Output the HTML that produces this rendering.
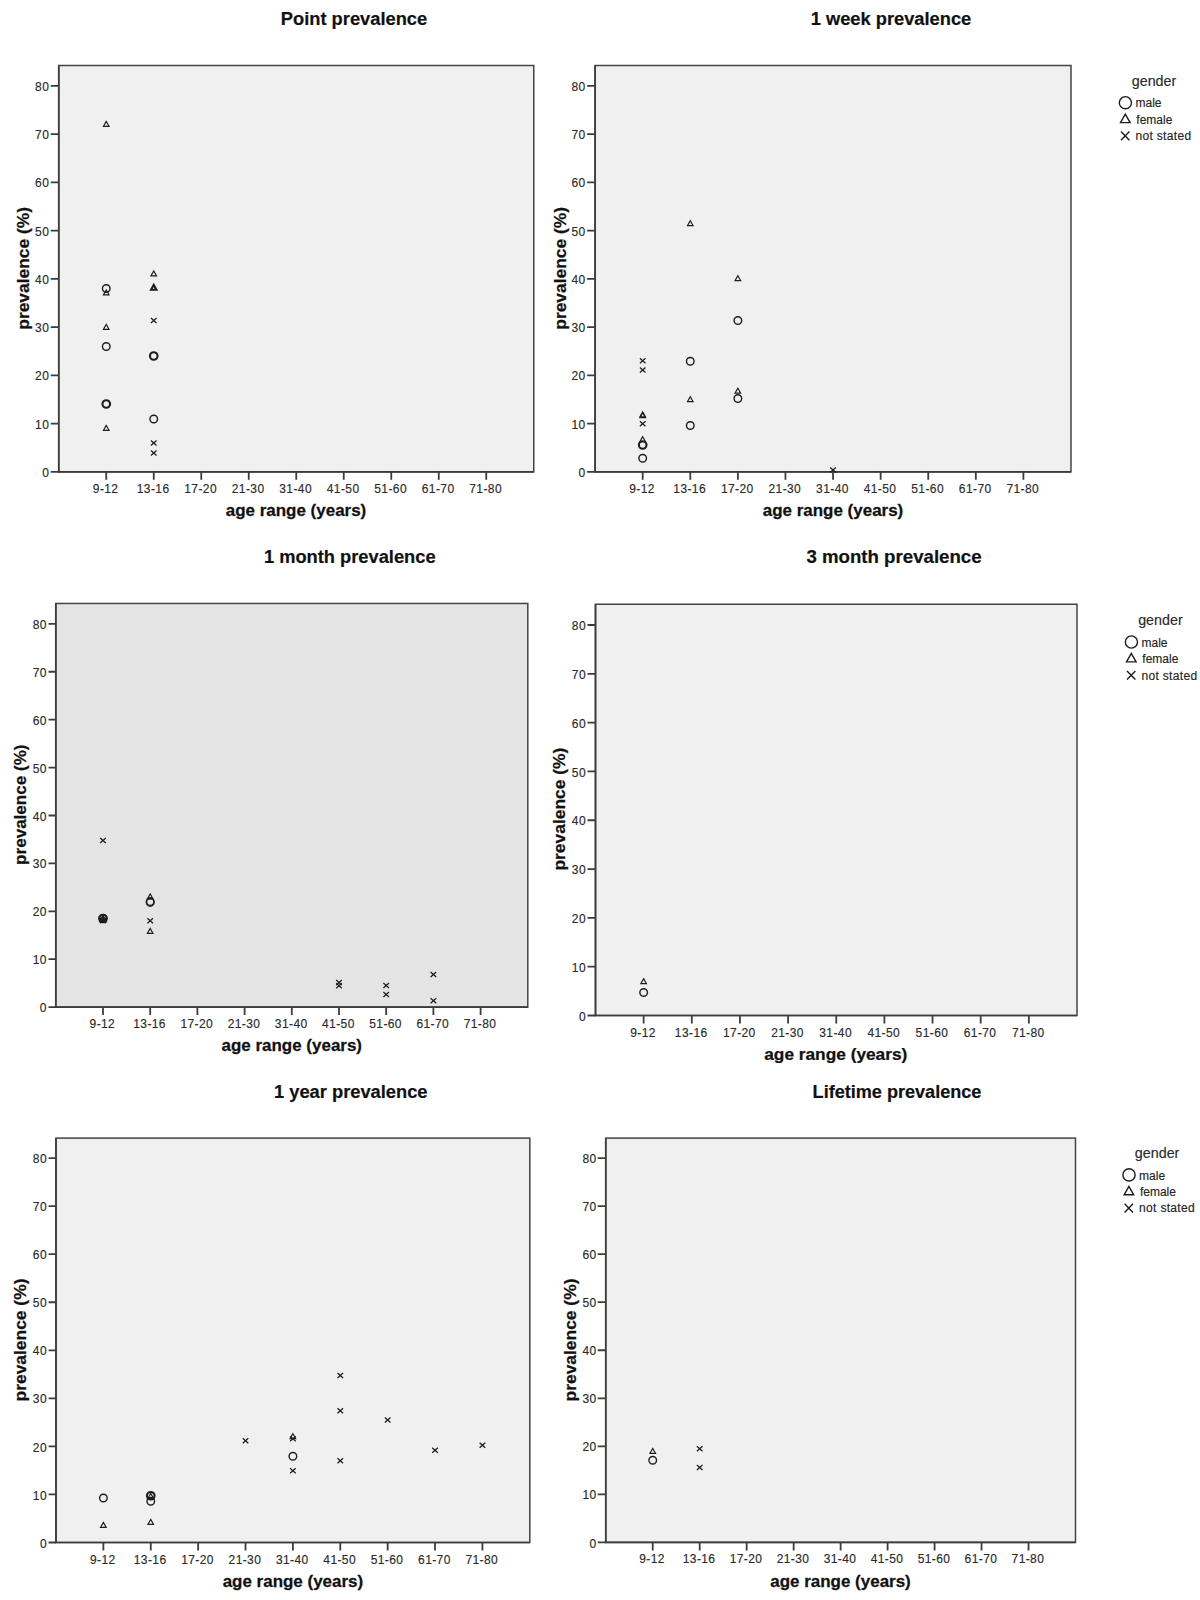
<!DOCTYPE html>
<html lang="en"><head><meta charset="utf-8"><title>Prevalence by age range and gender</title>
<style>html,body{margin:0;padding:0;background:#fff}svg{display:block}text{font-family:"Liberation Sans", Arial, sans-serif;fill:#1a1a1a}.tk{font-size:12px;fill:#2a2a2a;letter-spacing:0.4px}.ax{font-size:17.2px;font-weight:bold;fill:#111;stroke:#111;stroke-width:0.25px}.ti{font-size:18.8px;font-weight:bold;fill:#111;stroke:#111;stroke-width:0.2px}.lg{font-size:12px;fill:#222}.lt{font-size:14.3px;fill:#2a2a2a}.lg,.lt,.tk{stroke:#2a2a2a;stroke-width:0.15px}</style></head><body>
<svg width="1200" height="1600" viewBox="0 0 1200 1600">
<rect width="1200" height="1600" fill="#fff"/>
<g>
<text class="ti" transform="translate(354 24.6) scale(0.973 1)" text-anchor="middle">Point prevalence</text>
<rect x="58.75" y="65.5" width="475.0" height="406.3" fill="#f0f0f0" stroke="#444" stroke-width="1.5"/>
<path d="M58.75 65.5V471.8H533.75" fill="none" stroke="#3c3c3c" stroke-width="1.7"/>
<text class="tk" x="49.25" y="476.90" text-anchor="end">0</text>
<text class="tk" x="49.25" y="428.65" text-anchor="end">10</text>
<text class="tk" x="49.25" y="380.40" text-anchor="end">20</text>
<text class="tk" x="49.25" y="332.15" text-anchor="end">30</text>
<text class="tk" x="49.25" y="283.90" text-anchor="end">40</text>
<text class="tk" x="49.25" y="235.65" text-anchor="end">50</text>
<text class="tk" x="49.25" y="187.40" text-anchor="end">60</text>
<text class="tk" x="49.25" y="139.15" text-anchor="end">70</text>
<text class="tk" x="49.25" y="90.90" text-anchor="end">80</text>
<text class="tk" x="105.65" y="493.30" text-anchor="middle">9-12</text>
<text class="tk" x="153.15" y="493.30" text-anchor="middle">13-16</text>
<text class="tk" x="200.65" y="493.30" text-anchor="middle">17-20</text>
<text class="tk" x="248.15" y="493.30" text-anchor="middle">21-30</text>
<text class="tk" x="295.65" y="493.30" text-anchor="middle">31-40</text>
<text class="tk" x="343.15" y="493.30" text-anchor="middle">41-50</text>
<text class="tk" x="390.65" y="493.30" text-anchor="middle">51-60</text>
<text class="tk" x="438.15" y="493.30" text-anchor="middle">61-70</text>
<text class="tk" x="485.65" y="493.30" text-anchor="middle">71-80</text>
<path d="M50.75 471.80H58.75 M50.75 423.55H58.75 M50.75 375.30H58.75 M50.75 327.05H58.75 M50.75 278.80H58.75 M50.75 230.55H58.75 M50.75 182.30H58.75 M50.75 134.05H58.75 M50.75 85.80H58.75 M106.25 471.80V479.80 M153.75 471.80V479.80 M201.25 471.80V479.80 M248.75 471.80V479.80 M296.25 471.80V479.80 M343.75 471.80V479.80 M391.25 471.80V479.80 M438.75 471.80V479.80 M486.25 471.80V479.80" stroke="#3c3c3c" stroke-width="1.8" fill="none"/>
<text class="ax" transform="translate(296 515.6) scale(0.987 1)" text-anchor="middle">age range (years)</text>
<text class="ax" transform="translate(29.0 268.3) rotate(-90) scale(1.013 1)" text-anchor="middle">prevalence (%)</text>
<path d="M103.50 126.30L106.25 121.40L109.00 126.30Z" fill="none" stroke="#1c1c1c" stroke-width="1.2" stroke-linejoin="miter"/>
<circle cx="106.25" cy="288.50" r="3.8" fill="none" stroke="#1c1c1c" stroke-width="1.4"/>
<path d="M103.50 294.80L106.25 289.90L109.00 294.80Z" fill="none" stroke="#1c1c1c" stroke-width="1.2" stroke-linejoin="miter"/>
<path d="M103.50 329.30L106.25 324.40L109.00 329.30Z" fill="none" stroke="#1c1c1c" stroke-width="1.2" stroke-linejoin="miter"/>
<circle cx="106.25" cy="346.50" r="3.8" fill="none" stroke="#1c1c1c" stroke-width="1.4"/>
<circle cx="106.25" cy="404.00" r="3.8" fill="none" stroke="#1c1c1c" stroke-width="2.1"/>
<path d="M103.50 430.30L106.25 425.40L109.00 430.30Z" fill="none" stroke="#1c1c1c" stroke-width="1.2" stroke-linejoin="miter"/>
<path d="M151.00 275.80L153.75 270.90L156.50 275.80Z" fill="none" stroke="#1c1c1c" stroke-width="1.2" stroke-linejoin="miter"/>
<path d="M151.00 289.80L153.75 284.90L156.50 289.80Z" fill="none" stroke="#1c1c1c" stroke-width="2.0" stroke-linejoin="miter"/>
<path d="M150.95 318.00L156.55 323.00M150.95 323.00L156.55 318.00" fill="none" stroke="#1c1c1c" stroke-width="1.25"/>
<circle cx="153.75" cy="356.00" r="3.8" fill="none" stroke="#1c1c1c" stroke-width="2.1"/>
<circle cx="153.75" cy="419.00" r="3.8" fill="none" stroke="#1c1c1c" stroke-width="1.4"/>
<path d="M150.95 440.50L156.55 445.50M150.95 445.50L156.55 440.50" fill="none" stroke="#1c1c1c" stroke-width="1.25"/>
<path d="M150.95 450.50L156.55 455.50M150.95 455.50L156.55 450.50" fill="none" stroke="#1c1c1c" stroke-width="1.25"/>
</g>
<g>
<text class="ti" transform="translate(891 24.6) scale(0.973 1)" text-anchor="middle">1 week prevalence</text>
<rect x="595.1" y="65.5" width="475.9" height="406.3" fill="#f0f0f0" stroke="#444" stroke-width="1.5"/>
<path d="M595.1 65.5V471.8H1071" fill="none" stroke="#3c3c3c" stroke-width="1.7"/>
<text class="tk" x="585.60" y="476.90" text-anchor="end">0</text>
<text class="tk" x="585.60" y="428.65" text-anchor="end">10</text>
<text class="tk" x="585.60" y="380.40" text-anchor="end">20</text>
<text class="tk" x="585.60" y="332.15" text-anchor="end">30</text>
<text class="tk" x="585.60" y="283.90" text-anchor="end">40</text>
<text class="tk" x="585.60" y="235.65" text-anchor="end">50</text>
<text class="tk" x="585.60" y="187.40" text-anchor="end">60</text>
<text class="tk" x="585.60" y="139.15" text-anchor="end">70</text>
<text class="tk" x="585.60" y="90.90" text-anchor="end">80</text>
<text class="tk" x="642.09" y="493.30" text-anchor="middle">9-12</text>
<text class="tk" x="689.68" y="493.30" text-anchor="middle">13-16</text>
<text class="tk" x="737.27" y="493.30" text-anchor="middle">17-20</text>
<text class="tk" x="784.86" y="493.30" text-anchor="middle">21-30</text>
<text class="tk" x="832.45" y="493.30" text-anchor="middle">31-40</text>
<text class="tk" x="880.04" y="493.30" text-anchor="middle">41-50</text>
<text class="tk" x="927.63" y="493.30" text-anchor="middle">51-60</text>
<text class="tk" x="975.22" y="493.30" text-anchor="middle">61-70</text>
<text class="tk" x="1022.81" y="493.30" text-anchor="middle">71-80</text>
<path d="M587.10 471.80H595.10 M587.10 423.55H595.10 M587.10 375.30H595.10 M587.10 327.05H595.10 M587.10 278.80H595.10 M587.10 230.55H595.10 M587.10 182.30H595.10 M587.10 134.05H595.10 M587.10 85.80H595.10 M642.69 471.80V479.80 M690.28 471.80V479.80 M737.87 471.80V479.80 M785.46 471.80V479.80 M833.05 471.80V479.80 M880.64 471.80V479.80 M928.23 471.80V479.80 M975.82 471.80V479.80 M1023.41 471.80V479.80" stroke="#3c3c3c" stroke-width="1.8" fill="none"/>
<text class="ax" transform="translate(833 515.5) scale(0.987 1)" text-anchor="middle">age range (years)</text>
<text class="ax" transform="translate(566.0 268.3) rotate(-90) scale(1.013 1)" text-anchor="middle">prevalence (%)</text>
<path d="M639.89 358.25L645.49 363.25M639.89 363.25L645.49 358.25" fill="none" stroke="#1c1c1c" stroke-width="1.25"/>
<path d="M639.89 367.50L645.49 372.50M639.89 372.50L645.49 367.50" fill="none" stroke="#1c1c1c" stroke-width="1.25"/>
<path d="M639.94 416.90L642.69 412.00L645.44 416.90Z" fill="none" stroke="#1c1c1c" stroke-width="1.2" stroke-linejoin="miter"/>
<path d="M639.94 417.70L642.69 412.80L645.44 417.70Z" fill="none" stroke="#1c1c1c" stroke-width="1.2" stroke-linejoin="miter"/>
<path d="M639.89 421.25L645.49 426.25M639.89 426.25L645.49 421.25" fill="none" stroke="#1c1c1c" stroke-width="1.25"/>
<path d="M639.94 441.55L642.69 436.65L645.44 441.55Z" fill="none" stroke="#1c1c1c" stroke-width="1.2" stroke-linejoin="miter"/>
<circle cx="642.69" cy="445.00" r="3.8" fill="none" stroke="#1c1c1c" stroke-width="2.1"/>
<circle cx="642.69" cy="458.25" r="3.8" fill="none" stroke="#1c1c1c" stroke-width="1.4"/>
<path d="M687.53 225.55L690.28 220.65L693.03 225.55Z" fill="none" stroke="#1c1c1c" stroke-width="1.2" stroke-linejoin="miter"/>
<circle cx="690.28" cy="361.25" r="3.8" fill="none" stroke="#1c1c1c" stroke-width="1.4"/>
<path d="M687.53 401.55L690.28 396.65L693.03 401.55Z" fill="none" stroke="#1c1c1c" stroke-width="1.2" stroke-linejoin="miter"/>
<circle cx="690.28" cy="425.50" r="3.8" fill="none" stroke="#1c1c1c" stroke-width="1.4"/>
<path d="M735.12 280.55L737.87 275.65L740.62 280.55Z" fill="none" stroke="#1c1c1c" stroke-width="1.2" stroke-linejoin="miter"/>
<circle cx="737.87" cy="320.50" r="3.8" fill="none" stroke="#1c1c1c" stroke-width="1.4"/>
<path d="M735.12 393.05L737.87 388.15L740.62 393.05Z" fill="none" stroke="#1c1c1c" stroke-width="1.2" stroke-linejoin="miter"/>
<circle cx="737.87" cy="398.50" r="3.8" fill="none" stroke="#1c1c1c" stroke-width="1.4"/>
<path d="M830.25 467.50L835.85 472.50M830.25 472.50L835.85 467.50" fill="none" stroke="#1c1c1c" stroke-width="1.25"/>
</g>
<g>
<text class="ti" transform="translate(349.75 562.6) scale(0.973 1)" text-anchor="middle">1 month prevalence</text>
<rect x="55.8" y="603.45" width="471.99999999999994" height="403.65" fill="#e4e4e4" stroke="#444" stroke-width="1.5"/>
<path d="M55.8 603.45V1007.1H527.8" fill="none" stroke="#3c3c3c" stroke-width="1.7"/>
<text class="tk" x="46.80" y="1012.20" text-anchor="end">0</text>
<text class="tk" x="46.80" y="964.29" text-anchor="end">10</text>
<text class="tk" x="46.80" y="916.39" text-anchor="end">20</text>
<text class="tk" x="46.80" y="868.48" text-anchor="end">30</text>
<text class="tk" x="46.80" y="820.58" text-anchor="end">40</text>
<text class="tk" x="46.80" y="772.67" text-anchor="end">50</text>
<text class="tk" x="46.80" y="724.76" text-anchor="end">60</text>
<text class="tk" x="46.80" y="676.86" text-anchor="end">70</text>
<text class="tk" x="46.80" y="628.95" text-anchor="end">80</text>
<text class="tk" x="102.40" y="1027.60" text-anchor="middle">9-12</text>
<text class="tk" x="149.60" y="1027.60" text-anchor="middle">13-16</text>
<text class="tk" x="196.80" y="1027.60" text-anchor="middle">17-20</text>
<text class="tk" x="244.00" y="1027.60" text-anchor="middle">21-30</text>
<text class="tk" x="291.20" y="1027.60" text-anchor="middle">31-40</text>
<text class="tk" x="338.40" y="1027.60" text-anchor="middle">41-50</text>
<text class="tk" x="385.60" y="1027.60" text-anchor="middle">51-60</text>
<text class="tk" x="432.80" y="1027.60" text-anchor="middle">61-70</text>
<text class="tk" x="480.00" y="1027.60" text-anchor="middle">71-80</text>
<path d="M48.50 1007.10H55.80 M48.50 959.19H55.80 M48.50 911.29H55.80 M48.50 863.38H55.80 M48.50 815.48H55.80 M48.50 767.57H55.80 M48.50 719.66H55.80 M48.50 671.76H55.80 M48.50 623.85H55.80 M103.00 1007.10V1015.10 M150.20 1007.10V1015.10 M197.40 1007.10V1015.10 M244.60 1007.10V1015.10 M291.80 1007.10V1015.10 M339.00 1007.10V1015.10 M386.20 1007.10V1015.10 M433.40 1007.10V1015.10 M480.60 1007.10V1015.10" stroke="#3c3c3c" stroke-width="1.8" fill="none"/>
<text class="ax" transform="translate(291.75 1051) scale(0.987 1)" text-anchor="middle">age range (years)</text>
<text class="ax" transform="translate(26 804.7) rotate(-90) scale(0.992 1)" text-anchor="middle">prevalence (%)</text>
<path d="M100.20 838.00L105.80 843.00M100.20 843.00L105.80 838.00" fill="none" stroke="#1c1c1c" stroke-width="1.25"/>
<circle cx="103.00" cy="918.50" r="3.8" fill="none" stroke="#1c1c1c" stroke-width="2.1"/>
<circle cx="103.00" cy="918.50" r="3.8" fill="none" stroke="#1c1c1c" stroke-width="1.4"/>
<path d="M100.20 918.00L105.80 923.00M100.20 923.00L105.80 918.00" fill="none" stroke="#1c1c1c" stroke-width="2.0"/>
<path d="M100.25 921.30L103.00 916.40L105.75 921.30Z" fill="none" stroke="#1c1c1c" stroke-width="2.0" stroke-linejoin="miter"/>
<path d="M147.45 898.80L150.20 893.90L152.95 898.80Z" fill="none" stroke="#1c1c1c" stroke-width="1.2" stroke-linejoin="miter"/>
<circle cx="150.20" cy="901.60" r="3.8" fill="none" stroke="#1c1c1c" stroke-width="1.4"/>
<circle cx="150.20" cy="902.40" r="3.8" fill="none" stroke="#1c1c1c" stroke-width="1.4"/>
<path d="M147.40 918.25L153.00 923.25M147.40 923.25L153.00 918.25" fill="none" stroke="#1c1c1c" stroke-width="1.25"/>
<path d="M147.45 933.30L150.20 928.40L152.95 933.30Z" fill="none" stroke="#1c1c1c" stroke-width="1.2" stroke-linejoin="miter"/>
<path d="M336.20 980.00L341.80 985.00M336.20 985.00L341.80 980.00" fill="none" stroke="#1c1c1c" stroke-width="1.25"/>
<path d="M336.20 983.25L341.80 988.25M336.20 988.25L341.80 983.25" fill="none" stroke="#1c1c1c" stroke-width="1.25"/>
<path d="M383.40 983.00L389.00 988.00M383.40 988.00L389.00 983.00" fill="none" stroke="#1c1c1c" stroke-width="1.25"/>
<path d="M383.40 992.00L389.00 997.00M383.40 997.00L389.00 992.00" fill="none" stroke="#1c1c1c" stroke-width="1.25"/>
<path d="M430.60 972.00L436.20 977.00M430.60 977.00L436.20 972.00" fill="none" stroke="#1c1c1c" stroke-width="1.25"/>
<path d="M430.60 998.25L436.20 1003.25M430.60 1003.25L436.20 998.25" fill="none" stroke="#1c1c1c" stroke-width="1.25"/>
</g>
<g>
<text class="ti" transform="translate(894 562.6) scale(0.993 1)" text-anchor="middle">3 month prevalence</text>
<rect x="595.5" y="604.25" width="481.5" height="411.25" fill="#f0f0f0" stroke="#444" stroke-width="1.5"/>
<path d="M595.5 604.25V1015.5H1077" fill="none" stroke="#3c3c3c" stroke-width="1.7"/>
<text class="tk" x="586.00" y="1020.60" text-anchor="end">0</text>
<text class="tk" x="586.00" y="971.79" text-anchor="end">10</text>
<text class="tk" x="586.00" y="922.98" text-anchor="end">20</text>
<text class="tk" x="586.00" y="874.16" text-anchor="end">30</text>
<text class="tk" x="586.00" y="825.35" text-anchor="end">40</text>
<text class="tk" x="586.00" y="776.54" text-anchor="end">50</text>
<text class="tk" x="586.00" y="727.73" text-anchor="end">60</text>
<text class="tk" x="586.00" y="678.91" text-anchor="end">70</text>
<text class="tk" x="586.00" y="630.10" text-anchor="end">80</text>
<text class="tk" x="643.05" y="1037.00" text-anchor="middle">9-12</text>
<text class="tk" x="691.20" y="1037.00" text-anchor="middle">13-16</text>
<text class="tk" x="739.35" y="1037.00" text-anchor="middle">17-20</text>
<text class="tk" x="787.50" y="1037.00" text-anchor="middle">21-30</text>
<text class="tk" x="835.65" y="1037.00" text-anchor="middle">31-40</text>
<text class="tk" x="883.80" y="1037.00" text-anchor="middle">41-50</text>
<text class="tk" x="931.95" y="1037.00" text-anchor="middle">51-60</text>
<text class="tk" x="980.10" y="1037.00" text-anchor="middle">61-70</text>
<text class="tk" x="1028.25" y="1037.00" text-anchor="middle">71-80</text>
<path d="M587.50 1015.50H595.50 M587.50 966.69H595.50 M587.50 917.88H595.50 M587.50 869.06H595.50 M587.50 820.25H595.50 M587.50 771.44H595.50 M587.50 722.62H595.50 M587.50 673.81H595.50 M587.50 625.00H595.50 M643.65 1015.50V1023.50 M691.80 1015.50V1023.50 M739.95 1015.50V1023.50 M788.10 1015.50V1023.50 M836.25 1015.50V1023.50 M884.40 1015.50V1023.50 M932.55 1015.50V1023.50 M980.70 1015.50V1023.50 M1028.85 1015.50V1023.50" stroke="#3c3c3c" stroke-width="1.8" fill="none"/>
<text class="ax" transform="translate(835.75 1060) scale(1.005 1)" text-anchor="middle">age range (years)</text>
<text class="ax" transform="translate(564.6 809.1) rotate(-90) scale(1.013 1)" text-anchor="middle">prevalence (%)</text>
<path d="M640.90 983.55L643.65 978.65L646.40 983.55Z" fill="none" stroke="#1c1c1c" stroke-width="1.2" stroke-linejoin="miter"/>
<circle cx="643.65" cy="992.50" r="3.8" fill="none" stroke="#1c1c1c" stroke-width="1.4"/>
</g>
<g>
<text class="ti" transform="translate(350.75 1097.6) scale(0.973 1)" text-anchor="middle">1 year prevalence</text>
<rect x="56.0" y="1138.1" width="473.79999999999995" height="404.4000000000001" fill="#f0f0f0" stroke="#444" stroke-width="1.5"/>
<path d="M56.0 1138.1V1542.5H529.8" fill="none" stroke="#3c3c3c" stroke-width="1.7"/>
<text class="tk" x="47.00" y="1547.60" text-anchor="end">0</text>
<text class="tk" x="47.00" y="1499.55" text-anchor="end">10</text>
<text class="tk" x="47.00" y="1451.50" text-anchor="end">20</text>
<text class="tk" x="47.00" y="1403.45" text-anchor="end">30</text>
<text class="tk" x="47.00" y="1355.40" text-anchor="end">40</text>
<text class="tk" x="47.00" y="1307.35" text-anchor="end">50</text>
<text class="tk" x="47.00" y="1259.30" text-anchor="end">60</text>
<text class="tk" x="47.00" y="1211.25" text-anchor="end">70</text>
<text class="tk" x="47.00" y="1163.20" text-anchor="end">80</text>
<text class="tk" x="102.78" y="1563.60" text-anchor="middle">9-12</text>
<text class="tk" x="150.16" y="1563.60" text-anchor="middle">13-16</text>
<text class="tk" x="197.54" y="1563.60" text-anchor="middle">17-20</text>
<text class="tk" x="244.92" y="1563.60" text-anchor="middle">21-30</text>
<text class="tk" x="292.30" y="1563.60" text-anchor="middle">31-40</text>
<text class="tk" x="339.68" y="1563.60" text-anchor="middle">41-50</text>
<text class="tk" x="387.06" y="1563.60" text-anchor="middle">51-60</text>
<text class="tk" x="434.44" y="1563.60" text-anchor="middle">61-70</text>
<text class="tk" x="481.82" y="1563.60" text-anchor="middle">71-80</text>
<path d="M48.60 1542.50H56.00 M48.60 1494.45H56.00 M48.60 1446.40H56.00 M48.60 1398.35H56.00 M48.60 1350.30H56.00 M48.60 1302.25H56.00 M48.60 1254.20H56.00 M48.60 1206.15H56.00 M48.60 1158.10H56.00 M103.38 1542.50V1550.50 M150.76 1542.50V1550.50 M198.14 1542.50V1550.50 M245.52 1542.50V1550.50 M292.90 1542.50V1550.50 M340.28 1542.50V1550.50 M387.66 1542.50V1550.50 M435.04 1542.50V1550.50 M482.42 1542.50V1550.50" stroke="#3c3c3c" stroke-width="1.8" fill="none"/>
<text class="ax" transform="translate(292.9 1587) scale(0.987 1)" text-anchor="middle">age range (years)</text>
<text class="ax" transform="translate(26 1340) rotate(-90) scale(1.013 1)" text-anchor="middle">prevalence (%)</text>
<circle cx="103.38" cy="1498.00" r="3.8" fill="none" stroke="#1c1c1c" stroke-width="1.4"/>
<path d="M100.63 1527.30L103.38 1522.40L106.13 1527.30Z" fill="none" stroke="#1c1c1c" stroke-width="1.2" stroke-linejoin="miter"/>
<circle cx="150.76" cy="1495.75" r="3.8" fill="none" stroke="#1c1c1c" stroke-width="2.1"/>
<path d="M148.01 1498.30L150.76 1493.40L153.51 1498.30Z" fill="none" stroke="#1c1c1c" stroke-width="1.2" stroke-linejoin="miter"/>
<circle cx="150.76" cy="1501.25" r="3.8" fill="none" stroke="#1c1c1c" stroke-width="1.4"/>
<path d="M148.01 1524.30L150.76 1519.40L153.51 1524.30Z" fill="none" stroke="#1c1c1c" stroke-width="1.2" stroke-linejoin="miter"/>
<path d="M242.72 1438.25L248.32 1443.25M242.72 1443.25L248.32 1438.25" fill="none" stroke="#1c1c1c" stroke-width="1.25"/>
<path d="M290.15 1438.55L292.90 1433.65L295.65 1438.55Z" fill="none" stroke="#1c1c1c" stroke-width="1.2" stroke-linejoin="miter"/>
<path d="M290.10 1436.25L295.70 1441.25M290.10 1441.25L295.70 1436.25" fill="none" stroke="#1c1c1c" stroke-width="1.25"/>
<circle cx="292.90" cy="1456.25" r="3.8" fill="none" stroke="#1c1c1c" stroke-width="1.4"/>
<path d="M290.10 1468.25L295.70 1473.25M290.10 1473.25L295.70 1468.25" fill="none" stroke="#1c1c1c" stroke-width="1.25"/>
<path d="M337.48 1373.00L343.08 1378.00M337.48 1378.00L343.08 1373.00" fill="none" stroke="#1c1c1c" stroke-width="1.25"/>
<path d="M337.48 1408.25L343.08 1413.25M337.48 1413.25L343.08 1408.25" fill="none" stroke="#1c1c1c" stroke-width="1.25"/>
<path d="M337.48 1458.25L343.08 1463.25M337.48 1463.25L343.08 1458.25" fill="none" stroke="#1c1c1c" stroke-width="1.25"/>
<path d="M384.86 1417.50L390.46 1422.50M384.86 1422.50L390.46 1417.50" fill="none" stroke="#1c1c1c" stroke-width="1.25"/>
<path d="M432.24 1447.75L437.84 1452.75M432.24 1452.75L437.84 1447.75" fill="none" stroke="#1c1c1c" stroke-width="1.25"/>
<path d="M479.62 1442.75L485.22 1447.75M479.62 1447.75L485.22 1442.75" fill="none" stroke="#1c1c1c" stroke-width="1.25"/>
</g>
<g>
<text class="ti" transform="translate(897 1097.6) scale(0.962 1)" text-anchor="middle">Lifetime prevalence</text>
<rect x="605.75" y="1138.1" width="469.75" height="404.3000000000002" fill="#f0f0f0" stroke="#444" stroke-width="1.5"/>
<path d="M605.75 1138.1V1542.4H1075.5" fill="none" stroke="#3c3c3c" stroke-width="1.7"/>
<text class="tk" x="596.65" y="1547.50" text-anchor="end">0</text>
<text class="tk" x="596.65" y="1499.46" text-anchor="end">10</text>
<text class="tk" x="596.65" y="1451.42" text-anchor="end">20</text>
<text class="tk" x="596.65" y="1403.39" text-anchor="end">30</text>
<text class="tk" x="596.65" y="1355.35" text-anchor="end">40</text>
<text class="tk" x="596.65" y="1307.31" text-anchor="end">50</text>
<text class="tk" x="596.65" y="1259.27" text-anchor="end">60</text>
<text class="tk" x="596.65" y="1211.24" text-anchor="end">70</text>
<text class="tk" x="596.65" y="1163.20" text-anchor="end">80</text>
<text class="tk" x="652.12" y="1563.20" text-anchor="middle">9-12</text>
<text class="tk" x="699.10" y="1563.20" text-anchor="middle">13-16</text>
<text class="tk" x="746.07" y="1563.20" text-anchor="middle">17-20</text>
<text class="tk" x="793.05" y="1563.20" text-anchor="middle">21-30</text>
<text class="tk" x="840.02" y="1563.20" text-anchor="middle">31-40</text>
<text class="tk" x="887.00" y="1563.20" text-anchor="middle">41-50</text>
<text class="tk" x="933.98" y="1563.20" text-anchor="middle">51-60</text>
<text class="tk" x="980.95" y="1563.20" text-anchor="middle">61-70</text>
<text class="tk" x="1027.93" y="1563.20" text-anchor="middle">71-80</text>
<path d="M597.75 1542.40H605.75 M597.75 1494.36H605.75 M597.75 1446.33H605.75 M597.75 1398.29H605.75 M597.75 1350.25H605.75 M597.75 1302.21H605.75 M597.75 1254.17H605.75 M597.75 1206.14H605.75 M597.75 1158.10H605.75 M652.73 1542.40V1550.40 M699.70 1542.40V1550.40 M746.67 1542.40V1550.40 M793.65 1542.40V1550.40 M840.62 1542.40V1550.40 M887.60 1542.40V1550.40 M934.58 1542.40V1550.40 M981.55 1542.40V1550.40 M1028.53 1542.40V1550.40" stroke="#3c3c3c" stroke-width="1.8" fill="none"/>
<text class="ax" transform="translate(840.5 1587) scale(0.987 1)" text-anchor="middle">age range (years)</text>
<text class="ax" transform="translate(576.2 1340) rotate(-90) scale(1.013 1)" text-anchor="middle">prevalence (%)</text>
<path d="M649.98 1453.30L652.73 1448.40L655.48 1453.30Z" fill="none" stroke="#1c1c1c" stroke-width="1.2" stroke-linejoin="miter"/>
<circle cx="652.73" cy="1460.25" r="3.8" fill="none" stroke="#1c1c1c" stroke-width="1.4"/>
<path d="M696.90 1446.25L702.50 1451.25M696.90 1451.25L702.50 1446.25" fill="none" stroke="#1c1c1c" stroke-width="1.25"/>
<path d="M696.90 1465.00L702.50 1470.00M696.90 1470.00L702.50 1465.00" fill="none" stroke="#1c1c1c" stroke-width="1.25"/>
</g>
<g>
<text class="lt" x="1154" y="85.8" text-anchor="middle">gender</text>
<circle cx="1125.4" cy="102.7" r="6.1" fill="none" stroke="#1c1c1c" stroke-width="1.4"/>
<text class="lg" x="1135.5" y="107.4">male</text>
<path d="M1120.50 122.60L1125.30 114.10L1130.10 122.60Z" fill="none" stroke="#1c1c1c" stroke-width="1.4"/>
<text class="lg" x="1136.3" y="123.6">female</text>
<path d="M1121.00 131.60L1129.40 140.20M1121.00 140.20L1129.40 131.60" fill="none" stroke="#1c1c1c" stroke-width="1.4"/>
<text class="lg" style="letter-spacing:0.32px" x="1135.5" y="140.20000000000002">not stated</text>
</g>
<g>
<text class="lt" x="1160.4" y="624.8" text-anchor="middle">gender</text>
<circle cx="1131.4" cy="642.0" r="6.1" fill="none" stroke="#1c1c1c" stroke-width="1.4"/>
<text class="lg" x="1141.5" y="646.7">male</text>
<path d="M1126.50 661.90L1131.30 653.40L1136.10 661.90Z" fill="none" stroke="#1c1c1c" stroke-width="1.4"/>
<text class="lg" x="1142.3" y="662.9">female</text>
<path d="M1127.00 670.90L1135.40 679.50M1127.00 679.50L1135.40 670.90" fill="none" stroke="#1c1c1c" stroke-width="1.4"/>
<text class="lg" style="letter-spacing:0.32px" x="1141.5" y="679.5">not stated</text>
</g>
<g>
<text class="lt" x="1157.1" y="1157.8" text-anchor="middle">gender</text>
<circle cx="1129.0" cy="1174.9" r="6.1" fill="none" stroke="#1c1c1c" stroke-width="1.4"/>
<text class="lg" x="1139.1" y="1179.6000000000001">male</text>
<path d="M1124.10 1194.80L1128.90 1186.30L1133.70 1194.80Z" fill="none" stroke="#1c1c1c" stroke-width="1.4"/>
<text class="lg" x="1139.8999999999999" y="1195.8">female</text>
<path d="M1124.60 1203.80L1133.00 1212.40M1124.60 1212.40L1133.00 1203.80" fill="none" stroke="#1c1c1c" stroke-width="1.4"/>
<text class="lg" style="letter-spacing:0.32px" x="1139.1" y="1212.4">not stated</text>
</g>
</svg></body></html>
